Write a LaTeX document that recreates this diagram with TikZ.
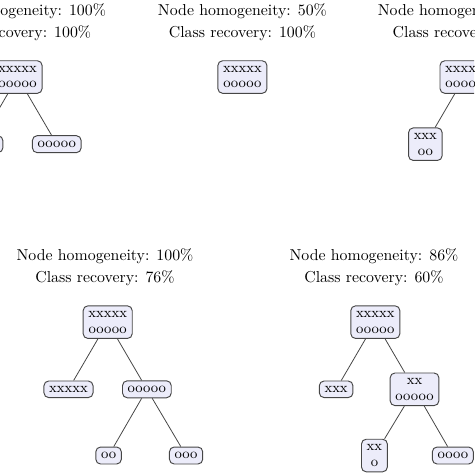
\documentclass[tikz,border=0pt]{standalone}
\usetikzlibrary{positioning}
\definecolor{leaffill}{RGB}{236,236,250}
\definecolor{edgegray}{RGB}{70,70,70}

\tikzset{
    split/.style={draw=edgegray, line width=0.6pt, rounded corners=3pt,
        fill=leaffill, align=center, inner sep=3.3pt,
        font=\fontsize{9}{10}\selectfont},
    branch/.style={draw=edgegray, line width=0.5pt},
    score/.style={align=center}
}

\begin{document}
\begin{tikzpicture}

    \path[use as bounding box, clip] (0,0) rectangle (10.52,10.52);

    % --- TOP LEFT: pure split ---
    \begin{scope}[shift={(0.39,8.81)}]
        \node[score] (tlscore) at (0,1.22) {Node homogeneity: 100\%\\[2pt]Class recovery: 100\%};
        \node[split] (tlroot) at (0,0) {xxxxx\\ooooo};
        \node[split] (tlx) at (-0.87,-1.49) {xxxxx};
        \node[split] (tlo) at (0.87,-1.49) {ooooo};
        \draw[branch] (tlroot) -- (tlx);
        \draw[branch] (tlroot) -- (tlo);
    \end{scope}

    % --- TOP MIDDLE: no split ---
    \begin{scope}[shift={(5.38,8.81)}]
        \node[score] (tmscore) at (0,1.22) {Node homogeneity: 50\%\\[2pt]Class recovery: 100\%};
        \node[split] (tmroot) at (0,0) {xxxxx\\ooooo};
    \end{scope}

    % --- TOP RIGHT: mixed split ---
    \begin{scope}[shift={(10.31,8.81)}]
        \node[score] (trscore) at (-0.05,1.22) {Node homogeneity: 60\%\\[2pt]Class recovery: 60\%};
        \node[split] (trroot) at (0,0) {xxxxx\\ooooo};
        \node[split] (trmix) at (-0.87,-1.49) {xxx\\oo};
        \draw[branch] (trroot) -- (trmix);
    \end{scope}

    % --- BOTTOM LEFT: over-split ---
    \begin{scope}[shift={(2.39,3.37)}]
        \node[score] (blscore) at (-0.06,1.22) {Node homogeneity: 100\%\\[2pt]Class recovery: 76\%};
        \node[split] (blroot) at (0,0) {xxxxx\\ooooo};
        \node[split] (blx) at (-0.87,-1.49) {xxxxx};
        \node[split] (blo) at (0.87,-1.49) {ooooo};
        \node[split] (bloa) at (0.02,-2.96) {oo};
        \node[split] (blob) at (1.74,-2.96) {ooo};
        \draw[branch] (blroot) -- (blx);
        \draw[branch] (blroot) -- (blo);
        \draw[branch] (blo) -- (bloa);
        \draw[branch] (blo) -- (blob);
    \end{scope}

    % --- BOTTOM RIGHT: impure split ---
    \begin{scope}[shift={(8.33,3.37)}]
        \node[score] (brscore) at (-0.03,1.22) {Node homogeneity: 86\%\\[2pt]Class recovery: 60\%};
        \node[split] (brroot) at (0,0) {xxxxx\\ooooo};
        \node[split] (brx) at (-0.87,-1.49) {xxx};
        \node[split] (brmix) at (0.87,-1.49) {xx\\ooooo};
        \node[split] (brmixa) at (-0.02,-2.96) {xx\\o};
        \node[split] (brmixb) at (1.72,-2.96) {oooo};
        \draw[branch] (brroot) -- (brx);
        \draw[branch] (brroot) -- (brmix);
        \draw[branch] (brmix) -- (brmixa);
        \draw[branch] (brmix) -- (brmixb);
    \end{scope}

\end{tikzpicture}
\end{document}
